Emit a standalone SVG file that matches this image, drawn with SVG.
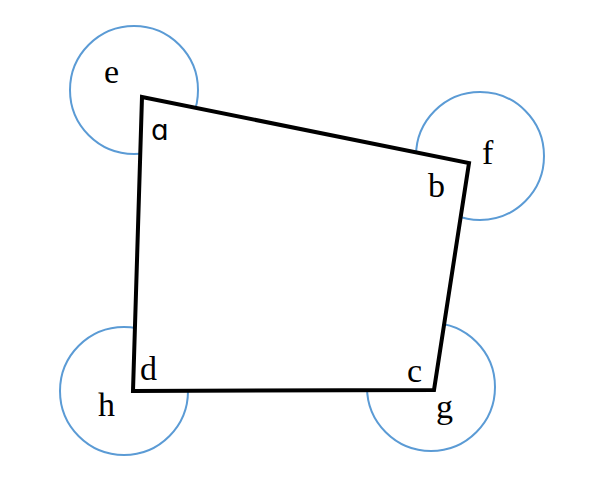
<svg xmlns="http://www.w3.org/2000/svg" width="611" height="480" viewBox="0 0 611 480">
<style>
.c{fill:none;stroke:#5b9bd5;stroke-width:2}
.q{fill:#fff;stroke:#000;stroke-width:4;stroke-linejoin:miter}
.t{font-family:"Liberation Serif","Times New Roman",serif;font-size:34px;fill:#000}
.s{font-family:"DejaVu Sans",sans-serif;font-size:28px;fill:#000}
</style>
<rect width="611" height="480" fill="#fff"/>
<g id="circles">
<circle id="e-circle" class="c" cx="134" cy="90" r="64"/>
<circle id="f-circle" class="c" cx="480" cy="156" r="64"/>
<circle id="g-circle" class="c" cx="431" cy="387" r="64"/>
<circle id="h-circle" class="c" cx="124" cy="391" r="64"/>
</g>
<g id="quad">
<polygon class="q" points="142,97 469,163 434,390 133,391"/>
</g>
<g id="labels">
<text id="a" class="s" x="151" y="140">ɑ</text>
<text id="b" class="t" x="428" y="197">b</text>
<text id="c" class="t" x="407" y="382">c</text>
<text id="d" class="t" x="140" y="380">d</text>
<text id="e" class="t" x="104" y="83">e</text>
<text id="f" class="t" x="482" y="164">f</text>
<text id="g" class="t" x="436" y="418">g</text>
<text id="h" class="t" x="98" y="416">h</text>
</g>
</svg>
